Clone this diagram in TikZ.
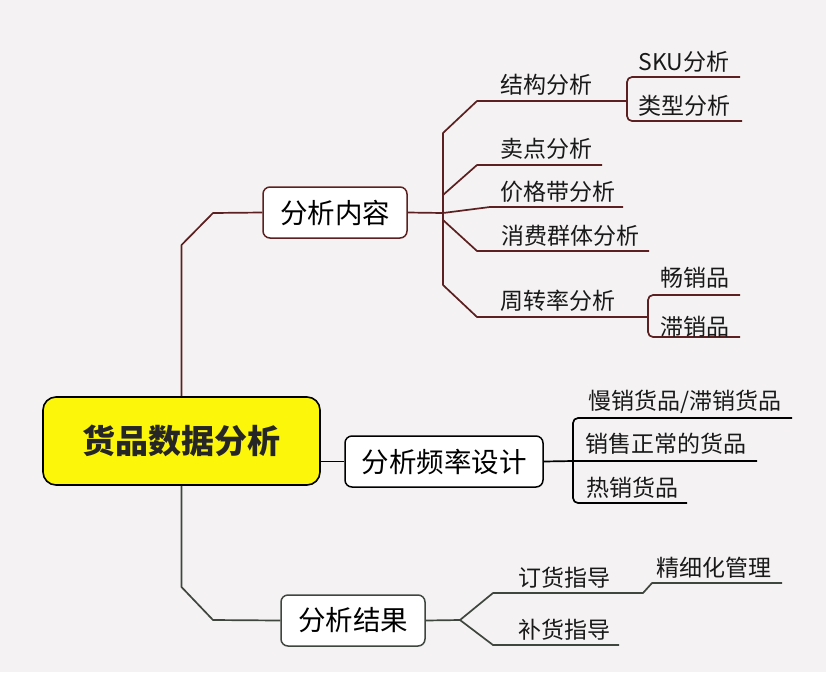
\documentclass[tikz,border=0pt]{standalone}
\usepackage{fontspec}
\setmainfont{Noto Sans CJK SC}
\usetikzlibrary{positioning}

\definecolor{bgcol}{RGB}{244,242,242}
\definecolor{redline}{RGB}{92,32,32}
\definecolor{grayline}{RGB}{62,70,62}
\definecolor{rootyel}{RGB}{252,246,10}

\tikzset{
  topic/.style={draw,rounded corners=7pt,line width=1.5pt,minimum height=51pt,
    inner sep=0pt,font=\fontsize{27.5}{27.5}\selectfont},
  leaf/.style={inner sep=0pt,text=black!90,font=\fontsize{23}{23}\selectfont},
  branch/.style={line width=1.7pt,line join=round},
  bracket/.style={branch,rounded corners=5pt},
}

\begin{document}
\begin{tikzpicture}[x=1pt,y=-1pt]
    \fill[bgcol] (0,0) rectangle (826,672);
    % root
    \node[draw=black,fill=rootyel,rounded corners=13pt,line width=1.6pt,
      minimum width=277pt,minimum height=88pt,text=black!85,
      font=\fontsize{33}{33}\selectfont\bfseries] (root) at (181.5,441) {货品数据分析};
    % first branch
    \node[topic,draw=redline,fill=white,minimum width=144pt] (cont) at (335,212.5) {分析内容};
    \draw[branch,redline] (root.north) -- (181.5,245) -- (213,213) -- (cont.west);
    \coordinate (fa) at (443,213);
    \draw[branch,redline] (cont.east) -- (fa);
    \draw[branch,redline] (627,101) -- (477,101) -- (443,133) -- (443,285) -- (477,317) -- (648,317);
    \draw[branch,redline] (443,195) -- (477,165) -- (602,165);
    \draw[branch,redline] (fa) -- (490,207) -- (623,207);
    \draw[branch,redline] (443,220) -- (477,251) -- (649,251);
    \draw[bracket,redline] (740,77) -- (627,77) -- (627,121) -- (742,121);
    \draw[bracket,redline] (740,295) -- (648,295) -- (648,337) -- (740,337);
    \node[leaf] (jg) at (546,85) {结构分析};
    \node[leaf] (sku) at (684,62) {SKU分析};
    \node[leaf] (lx) at (684,106) {类型分析};
    \node[leaf] (md) at (546,149) {卖点分析};
    \node[leaf] (jgd) at (558,192) {价格带分析};
    \node[leaf] (xf) at (570,236) {消费群体分析};
    \node[leaf] (zz) at (558,301) {周转率分析};
    \node[leaf] (cx) at (695,278) {畅销品};
    \node[leaf] (zx) at (695,327) {滞销品};
    % second branch
    \node[topic,draw=black,fill=white,minimum width=198pt] (freq) at (444,461.5) {分析频率设计};
    \draw[branch] (freq.west -| root.east) -- (freq.west);
    \coordinate (fb) at (573,461);
    \draw[branch] (freq.east) -- (fb) -- (757,461);
    \draw[bracket] (792,418) -- (573,418) -- (573,503) -- (687,503);
    \node[leaf] (mx) at (685,402) {慢销货品/滞销货品};
    \node[leaf] (zc) at (666,444) {销售正常的货品};
    \node[leaf] (rx) at (632,488) {热销货品};
    % third branch
    \node[topic,draw=grayline,fill=white,minimum width=144pt] (res) at (353,620.5) {分析结果};
    \draw[branch,grayline] (root.south) -- (181.5,587) -- (213,620) -- (res.west);
    \coordinate (fc) at (460,620);
    \draw[branch,grayline] (res.east) -- (fc);
    \draw[branch,grayline] (fc) -- (493,593) -- (643,593) -- (652,583) -- (782,583);
    \draw[branch,grayline] (fc) -- (493,645) -- (619,645);
    \node[leaf] (dh) at (564,578) {订货指导};
    \node[leaf] (bh) at (564,630) {补货指导};
    \node[leaf] (jx) at (714,568) {精细化管理};
\end{tikzpicture}
\end{document}
